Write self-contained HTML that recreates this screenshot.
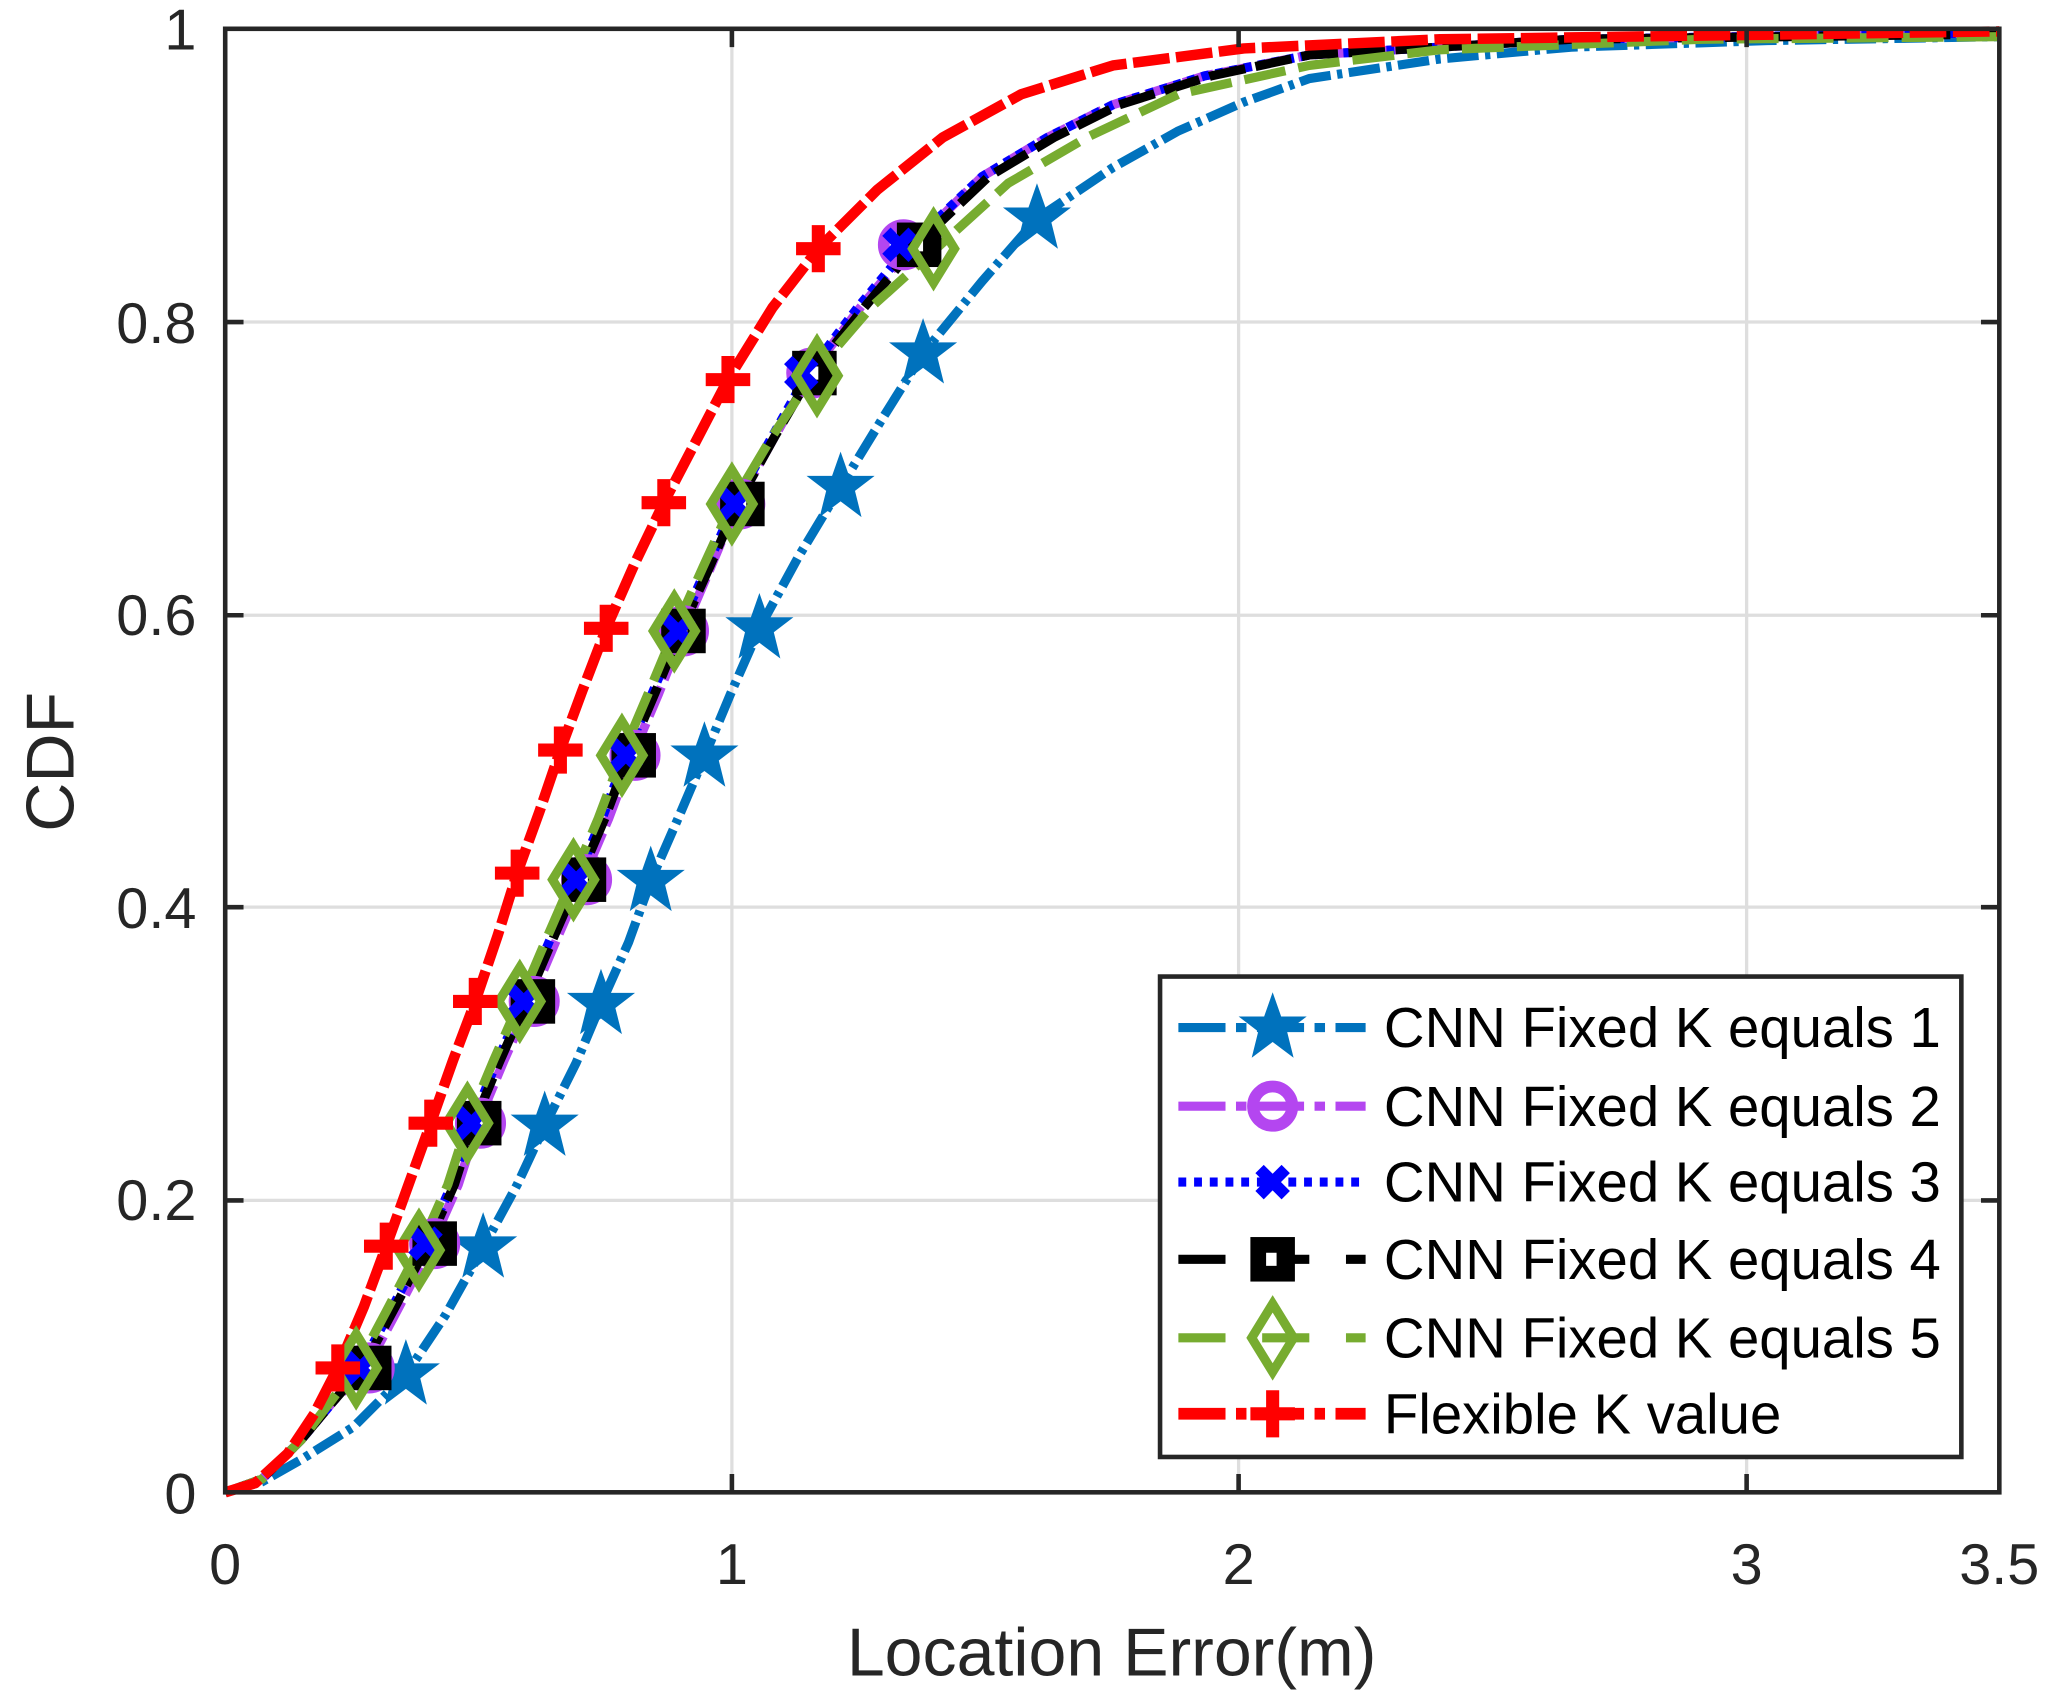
<!DOCTYPE html>
<html><head><meta charset="utf-8"><style>
html,body{margin:0;padding:0;background:#fff;}
svg{display:block;}
text{font-family:"Liberation Sans",sans-serif;fill:#262626;}
</style></head><body>
<svg width="2053" height="1707" viewBox="0 0 1568 1304" preserveAspectRatio="none" xmlns="http://www.w3.org/2000/svg">
<defs>
<path id="star" d="M0,-27 L6.5,-8.5 L26,-8.5 L11,3 L16,23 L0,11 L-16,23 L-11,3 L-26,-8.5 L-6.5,-8.5 Z" fill="#0072BD"/>
<circle id="circ" r="15" fill="none" stroke="#B446F0" stroke-width="9"/>
<path id="xx" d="M-10,-10 L10,10 M10,-10 L-10,10" stroke="#0000FF" stroke-width="9"/>
<g id="sq"><rect x="-17" y="-17" width="34" height="34" fill="#000"/><rect x="-5" y="-5" width="8" height="10" fill="#fff"/></g>
<path id="dia" d="M0,-26 L16,0 L0,26 L-16,0 Z" fill="none" stroke="#77AC30" stroke-width="7"/>
<path id="plus" d="M-17,0 L17,0 M0,-18 L0,18" stroke="#FF0000" stroke-width="10"/>
</defs>
<rect x="172" y="22" width="1355" height="1118" fill="#fff"/>
<g stroke="#dedede" stroke-width="2.5">
<line x1="559" y1="22" x2="559" y2="1140"/><line x1="946" y1="22" x2="946" y2="1140"/><line x1="1334" y1="22" x2="1334" y2="1140"/>
<line x1="172" y1="246" x2="1527" y2="246"/><line x1="172" y1="470" x2="1527" y2="470"/><line x1="172" y1="693" x2="1527" y2="693"/><line x1="172" y1="917" x2="1527" y2="917"/>
</g>
<g fill="none" stroke-width="7" stroke-linejoin="round">
<polyline stroke="#0072BD" stroke-dasharray="24,5,4,5" points="172,1140 200,1132 230,1115 270,1090 310,1050 340,1005 369,953 395,905 416,860 440,812 459,767 480,720 497,673 518,625 538,578 558,530 580,480 610,425 642,372 675,318 705,270 750,215 792,167 850,128 900,100 950,78 1000,60 1100,45 1200,36 1350,31 1527,28"/>
<polyline stroke="#B446F0" stroke-dasharray="24,6" points="172,1140 200,1130 230,1100 255,1070 280,1045 305,998 330,950 350,905 365,858 385,810 405,765 425,718 445,672 465,625 483,577 503,530 522,482 543,433 563,385 592,333 619,285 657,235 697,187 750,135 800,105 850,80 920,58 1000,42 1200,30 1527,25"/>
<polyline stroke="#0000FF" stroke-dasharray="6,5" points="172,1140 200,1130 230,1100 255,1070 275,1045 300,998 325,950 345,905 360,858 380,810 400,765 420,718 440,672 460,625 478,577 498,530 518,482 540,433 561,385 590,333 617,285 655,235 695,187 750,135 800,105 850,80 920,58 1000,42 1200,30 1527,25"/>
<polyline stroke="#000" stroke-dasharray="28,8" points="172,1140 200,1130 230,1100 255,1070 277,1045 302,998 327,950 347,905 362,858 382,810 402,765 422,718 442,672 462,625 480,577 500,530 520,482 542,433 563,385 592,333 620,285 660,235 700,187 755,135 805,105 855,80 925,58 1000,42 1200,30 1527,26"/>
<polyline stroke="#77AC30" stroke-dasharray="32,10" points="172,1140 200,1130 230,1100 253,1070 272,1045 297,998 322,950 342,905 357,858 377,810 397,765 417,718 437,672 457,625 475,577 495,530 515,482 537,433 559,385 590,333 622,285 665,235 715,190 770,140 830,105 900,72 1000,50 1100,38 1300,30 1527,28"/>
<polyline stroke="#FF0000" stroke-dasharray="28,5" stroke-width="8" points="172,1140 195,1133 220,1110 240,1080 258,1045 278,998 295,952 312,905 329,858 346,810 363,765 380,715 395,667 412,620 428,573 445,527 463,480 485,430 507,384 530,340 556,290 590,235 625,190 670,145 720,105 780,72 850,50 950,37 1100,30 1527,24"/>
</g>
<g>
<use href="#star" x="310" y="1050"/><use href="#star" x="369" y="953"/><use href="#star" x="416" y="860"/><use href="#star" x="459" y="767"/><use href="#star" x="497" y="673"/><use href="#star" x="538" y="578"/><use href="#star" x="580" y="480"/><use href="#star" x="642" y="372"/><use href="#star" x="705" y="270"/><use href="#star" x="792" y="167"/>
<use href="#circ" x="282" y="1045"/><use href="#circ" x="332" y="950"/><use href="#circ" x="367" y="858"/><use href="#circ" x="408" y="765"/><use href="#circ" x="448" y="672"/><use href="#circ" x="485" y="577"/><use href="#circ" x="522" y="482"/><use href="#circ" x="565" y="385"/><use href="#circ" x="620" y="285"/><use href="#circ" x="690" y="187"/>
<use href="#sq" x="282" y="1045"/><use href="#sq" x="332" y="950"/><use href="#sq" x="366" y="858"/><use href="#sq" x="407" y="765"/><use href="#sq" x="446" y="672"/><use href="#sq" x="484" y="577"/><use href="#sq" x="522" y="482"/><use href="#sq" x="567" y="385"/><use href="#sq" x="622" y="285"/><use href="#sq" x="702" y="187"/>
<use href="#xx" x="275" y="1045"/><use href="#xx" x="325" y="950"/><use href="#xx" x="360" y="858"/><use href="#xx" x="400" y="765"/><use href="#xx" x="440" y="672"/><use href="#xx" x="478" y="577"/><use href="#xx" x="518" y="482"/><use href="#xx" x="561" y="385"/><use href="#xx" x="612" y="285"/><use href="#xx" x="687" y="187"/>
<use href="#dia" x="272" y="1045"/><use href="#dia" x="320" y="955"/><use href="#dia" x="357" y="858"/><use href="#dia" x="397" y="765"/><use href="#dia" x="438" y="672"/><use href="#dia" x="475" y="577"/><use href="#dia" x="515" y="482"/><use href="#dia" x="559" y="385"/><use href="#dia" x="624" y="287"/><use href="#dia" x="713" y="190"/>
<use href="#plus" x="258" y="1045"/><use href="#plus" x="295" y="952"/><use href="#plus" x="329" y="858"/><use href="#plus" x="363" y="765"/><use href="#plus" x="395" y="667"/><use href="#plus" x="428" y="573"/><use href="#plus" x="463" y="480"/><use href="#plus" x="507" y="384"/><use href="#plus" x="556" y="290"/><use href="#plus" x="625" y="190"/>
</g>
<rect x="172" y="22" width="1355" height="1118" fill="none" stroke="#262626" stroke-width="3.5"/>
<g stroke="#262626" stroke-width="3.5">
<line x1="559" y1="1140" x2="559" y2="1126"/><line x1="946" y1="1140" x2="946" y2="1126"/><line x1="1334" y1="1140" x2="1334" y2="1126"/>
<line x1="559" y1="22" x2="559" y2="36"/><line x1="946" y1="22" x2="946" y2="36"/><line x1="1334" y1="22" x2="1334" y2="36"/>
<line x1="172" y1="246" x2="186" y2="246"/><line x1="172" y1="470" x2="186" y2="470"/><line x1="172" y1="693" x2="186" y2="693"/><line x1="172" y1="917" x2="186" y2="917"/>
<line x1="1527" y1="246" x2="1513" y2="246"/><line x1="1527" y1="470" x2="1513" y2="470"/><line x1="1527" y1="693" x2="1513" y2="693"/><line x1="1527" y1="917" x2="1513" y2="917"/>
</g>
<g font-size="44" text-anchor="middle">
<text x="172" y="1210">0</text><text x="559" y="1210">1</text><text x="946" y="1210">2</text><text x="1334" y="1210">3</text><text x="1527" y="1210">3.5</text>
</g>
<g font-size="44" text-anchor="end">
<text x="150" y="1156">0</text><text x="150" y="932">0.2</text><text x="150" y="709">0.4</text><text x="150" y="485">0.6</text><text x="150" y="262">0.8</text><text x="150" y="38">1</text>
</g>
<text x="849" y="1280" font-size="52" text-anchor="middle">Location Error(m)</text>
<text x="0" y="0" font-size="52" text-anchor="middle" transform="translate(56,582) rotate(-90)">CDF</text>
<rect x="886" y="746" width="612" height="367" fill="#fff" stroke="#262626" stroke-width="3.5"/>
<g stroke-width="7" fill="none">
<line x1="900" y1="785" x2="1043" y2="785" stroke="#0072BD" stroke-dasharray="36,8,8,8"/>
<line x1="900" y1="845" x2="1043" y2="845" stroke="#B446F0" stroke-dasharray="36,8,8,8"/>
<line x1="900" y1="903" x2="1043" y2="903" stroke="#0000FF" stroke-dasharray="6,6"/>
<line x1="900" y1="962" x2="1043" y2="962" stroke="#000" stroke-dasharray="36,28,36,28"/>
<line x1="900" y1="1022" x2="1043" y2="1022" stroke="#77AC30" stroke-dasharray="36,28,36,28"/>
<line x1="900" y1="1080" x2="1043" y2="1080" stroke="#FF0000" stroke-width="9" stroke-dasharray="36,8,8,8"/>
</g>
<use href="#star" x="972" y="785"/><use href="#circ" x="972" y="845"/><use href="#xx" x="972" y="903"/><use href="#sq" x="972" y="962"/><use href="#dia" x="972" y="1022"/><use href="#plus" x="972" y="1080"/>
<g font-size="43">
<text x="1057" y="800" style="fill:#000">CNN Fixed K equals 1</text>
<text x="1057" y="860" style="fill:#000">CNN Fixed K equals 2</text>
<text x="1057" y="918" style="fill:#000">CNN Fixed K equals 3</text>
<text x="1057" y="977" style="fill:#000">CNN Fixed K equals 4</text>
<text x="1057" y="1037" style="fill:#000">CNN Fixed K equals 5</text>
<text x="1057" y="1095" style="fill:#000">Flexible K value</text>
</g>
</svg>
</body></html>
